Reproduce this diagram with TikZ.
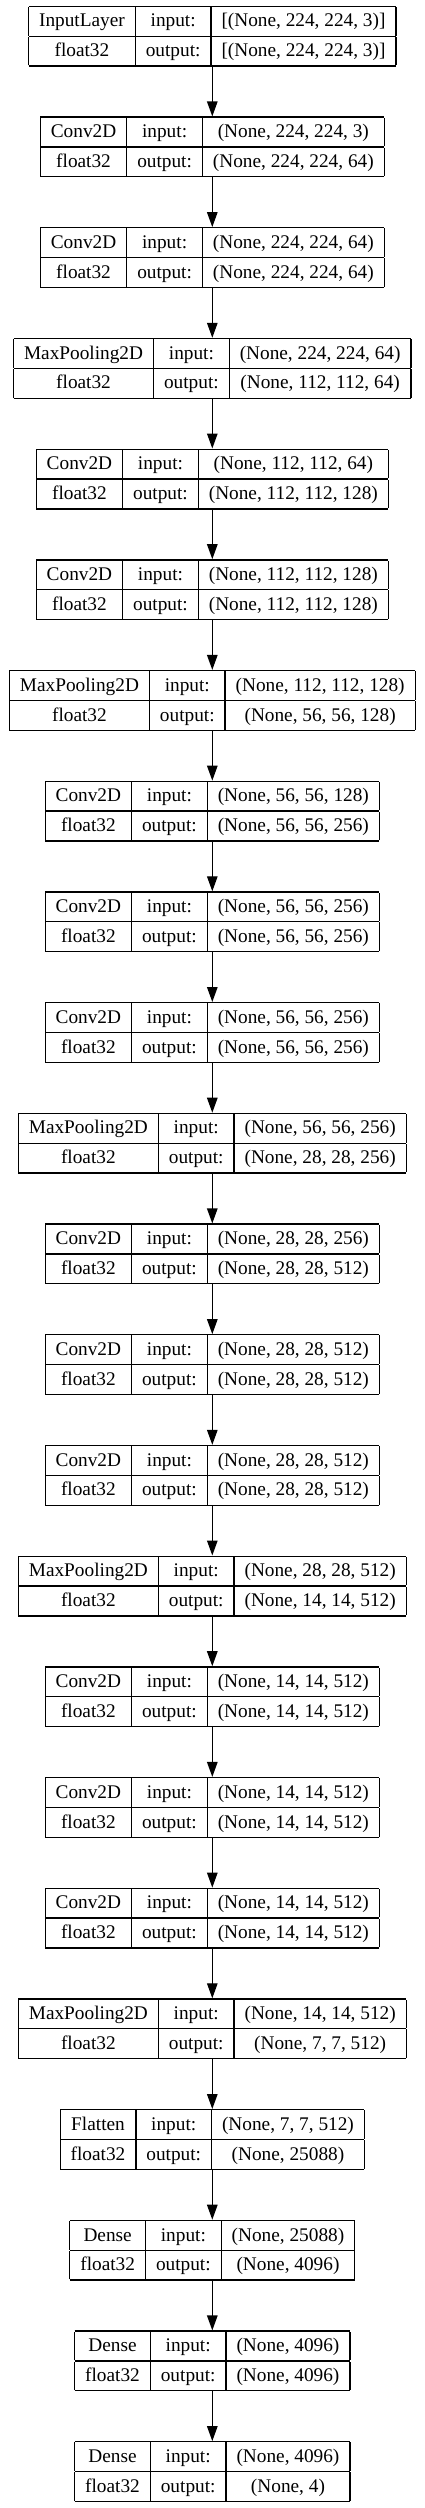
\documentclass[tikz,border=0pt]{standalone}
\usepackage{fontspec}
\setmainfont{Liberation Serif}
\usetikzlibrary{arrows.meta,positioning}
\setlength{\arrayrulewidth}{1.3pt}
\setlength{\tabcolsep}{10.5pt}
% one layer: type, input shape, output shape
\newcommand{\shapetab}[3]{%
  \begin{tabular}{|c|c|c|}\hline
  #1 & input: & #2\\\hline
  float32 & output: & #3\\\hline
  \end{tabular}}

\begin{document}
\begin{tikzpicture}[
  x=1pt, y=1pt,
  node distance=49.7pt,
  layer/.style={
    inner sep=0pt,
    outer sep=0pt,
    font=\fontsize{19.3}{28.55}\selectfont
  },
  arrow/.style={-{Triangle[length=15pt,width=10.5pt]}, line width=1.3pt}
]
\useasboundingbox (0,0) rectangle (425,-2508);
\node[layer, anchor=north] (input) at (212.3,-5.7) {\shapetab{InputLayer}{[(None, 224, 224, 3)]}{[(None, 224, 224, 3)]}};
\node[layer, below=of input] (conv1) {\shapetab{Conv2D}{(None, 224, 224, 3)}{(None, 224, 224, 64)}};
\node[layer, below=of conv1] (conv2) {\shapetab{Conv2D}{(None, 224, 224, 64)}{(None, 224, 224, 64)}};
\node[layer, below=of conv2] (pool1) {\shapetab{MaxPooling2D}{(None, 224, 224, 64)}{(None, 112, 112, 64)}};
\node[layer, below=of pool1] (conv3) {\shapetab{Conv2D}{(None, 112, 112, 64)}{(None, 112, 112, 128)}};
\node[layer, below=of conv3] (conv4) {\shapetab{Conv2D}{(None, 112, 112, 128)}{(None, 112, 112, 128)}};
\node[layer, below=of conv4] (pool2) {\shapetab{MaxPooling2D}{(None, 112, 112, 128)}{(None, 56, 56, 128)}};
\node[layer, below=of pool2] (conv5) {\shapetab{Conv2D}{(None, 56, 56, 128)}{(None, 56, 56, 256)}};
\node[layer, below=of conv5] (conv6) {\shapetab{Conv2D}{(None, 56, 56, 256)}{(None, 56, 56, 256)}};
\node[layer, below=of conv6] (conv7) {\shapetab{Conv2D}{(None, 56, 56, 256)}{(None, 56, 56, 256)}};
\node[layer, below=of conv7] (pool3) {\shapetab{MaxPooling2D}{(None, 56, 56, 256)}{(None, 28, 28, 256)}};
\node[layer, below=of pool3] (conv8) {\shapetab{Conv2D}{(None, 28, 28, 256)}{(None, 28, 28, 512)}};
\node[layer, below=of conv8] (conv9) {\shapetab{Conv2D}{(None, 28, 28, 512)}{(None, 28, 28, 512)}};
\node[layer, below=of conv9] (conv10) {\shapetab{Conv2D}{(None, 28, 28, 512)}{(None, 28, 28, 512)}};
\node[layer, below=of conv10] (pool4) {\shapetab{MaxPooling2D}{(None, 28, 28, 512)}{(None, 14, 14, 512)}};
\node[layer, below=of pool4] (conv11) {\shapetab{Conv2D}{(None, 14, 14, 512)}{(None, 14, 14, 512)}};
\node[layer, below=of conv11] (conv12) {\shapetab{Conv2D}{(None, 14, 14, 512)}{(None, 14, 14, 512)}};
\node[layer, below=of conv12] (conv13) {\shapetab{Conv2D}{(None, 14, 14, 512)}{(None, 14, 14, 512)}};
\node[layer, below=of conv13] (pool5) {\shapetab{MaxPooling2D}{(None, 14, 14, 512)}{(None, 7, 7, 512)}};
\node[layer, below=of pool5] (flat) {\shapetab{Flatten}{(None, 7, 7, 512)}{(None, 25088)}};
\node[layer, below=of flat] (dense1) {\shapetab{Dense}{(None, 25088)}{(None, 4096)}};
\node[layer, below=of dense1] (dense2) {\shapetab{Dense}{(None, 4096)}{(None, 4096)}};
\node[layer, below=of dense2] (dense3) {\shapetab{Dense}{(None, 4096)}{(None, 4)}};
% connectors
\foreach \a/\b in {input/conv1, conv1/conv2, conv2/pool1, pool1/conv3, conv3/conv4,
  conv4/pool2, pool2/conv5, conv5/conv6, conv6/conv7, conv7/pool3, pool3/conv8,
  conv8/conv9, conv9/conv10, conv10/pool4, pool4/conv11, conv11/conv12,
  conv12/conv13, conv13/pool5, pool5/flat, flat/dense1, dense1/dense2, dense2/dense3}
  \draw[arrow] (\a.south) -- (\b.north);
\end{tikzpicture}
\end{document}
